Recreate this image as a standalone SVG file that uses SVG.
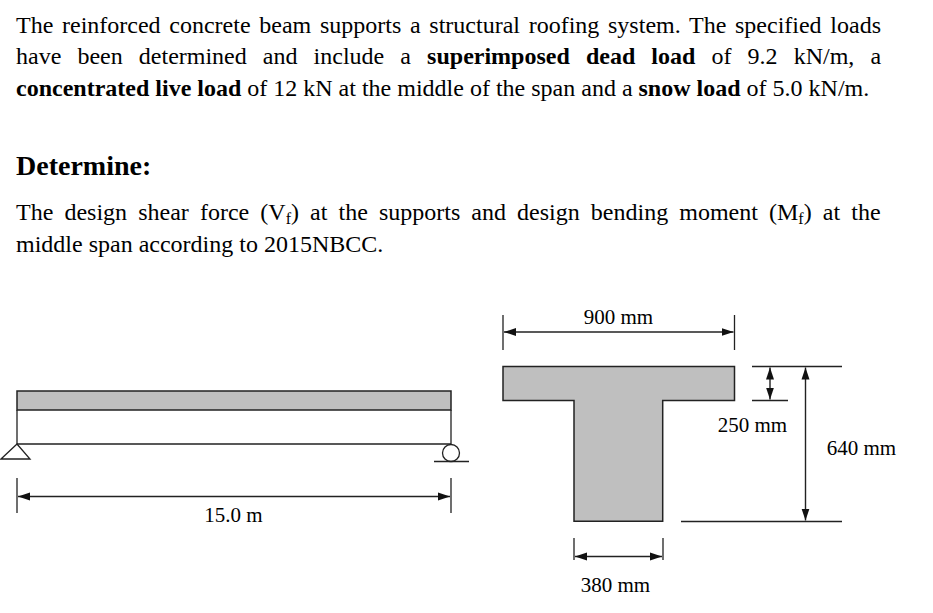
<svg xmlns="http://www.w3.org/2000/svg" width="933" height="613" viewBox="0 0 933 613">
<style>
text{font-family:"Liberation Serif","Times New Roman",serif;fill:#000}
.p{font-size:24px}
.l{font-size:21px}
.h{font-size:28px;font-weight:bold}
.b{font-weight:bold}
.s{fill:#bfbfbf;stroke:#222;stroke-width:1.5}
.n{fill:none;stroke:#222;stroke-width:1.3}
.d{fill:none;stroke:#222;stroke-width:1.4;marker-start:url(#a);marker-end:url(#a)}
</style>
<defs>
<marker id="a" markerUnits="userSpaceOnUse" markerWidth="13" markerHeight="9" refX="12" refY="4.500" orient="auto-start-reverse"><path d="M0 0.500L12 4.500L0 8.500Z" fill="#111"/></marker>
</defs>
<rect width="933" height="613" fill="#fff"/>
<g id="text">
<text class="p" x="16" y="33" word-spacing="2.7">The reinforced concrete beam supports a structural roofing system. The specified loads</text>
<text class="p" x="16" y="63.500" word-spacing="10.1">have been determined and include a <tspan class="b">superimposed dead load</tspan> of 9.2 kN/m, a</text>
<text class="p" x="16" y="96"><tspan class="b">concentrated live load</tspan> of 12 kN at the middle of the span and a <tspan class="b">snow load</tspan> of 5.0 kN/m.</text>
<text class="h" x="16" y="175">Determine:</text>
<text class="p" x="16" y="220" word-spacing="5.1">The design shear force (V<tspan font-size="16" dy="4">f</tspan><tspan dy="-4">)</tspan> at the supports and design bending moment (M<tspan font-size="16" dy="4">f</tspan><tspan dy="-4">)</tspan> at the</text>
<text class="p" x="16" y="252">middle span according to 2015NBCC.</text>
</g>
<g id="beam">
<rect class="s" x="17" y="391" width="434" height="19"/>
<path class="n" d="M17 410V444H451V410"/>
</g>
<g id="pin-support"><path class="n" d="M17 444L1 459H30Z"/></g>
<g id="roller-support"><circle class="n" cx="451" cy="453" r="8.500"/><path class="n" d="M434 461.500H469"/></g>
<g id="t-section"><path class="s" d="M503 366.500H734.500V400.500H662.700V521.300H574V400.500H503Z"/></g>
<g id="connectors">
<path class="n" d="M17 478V513M451 478V513M503 315V350M734.500 315V350M574 538V560M663 538V560M752 366.500H842M752 400.500H788M681 521.500H842"/>
<path class="d" d="M18 496.500H450"/>
<path class="d" d="M504 332H733.500"/>
<path class="d" d="M575 556.500H662"/>
<path class="d" d="M770 367.500V399.500"/>
<path class="d" d="M805.500 367.500V520.500"/>
</g>
<g id="labels">
<text class="l" x="233.500" y="522" text-anchor="middle">15.0 m</text>
<text class="l" x="618.500" y="324" text-anchor="middle">900 mm</text>
<text class="l" x="752.500" y="432" text-anchor="middle">250 mm</text>
<text class="l" x="861.500" y="455" text-anchor="middle">640 mm</text>
<text class="l" x="615.500" y="592" text-anchor="middle">380 mm</text>
</g>
</svg>
